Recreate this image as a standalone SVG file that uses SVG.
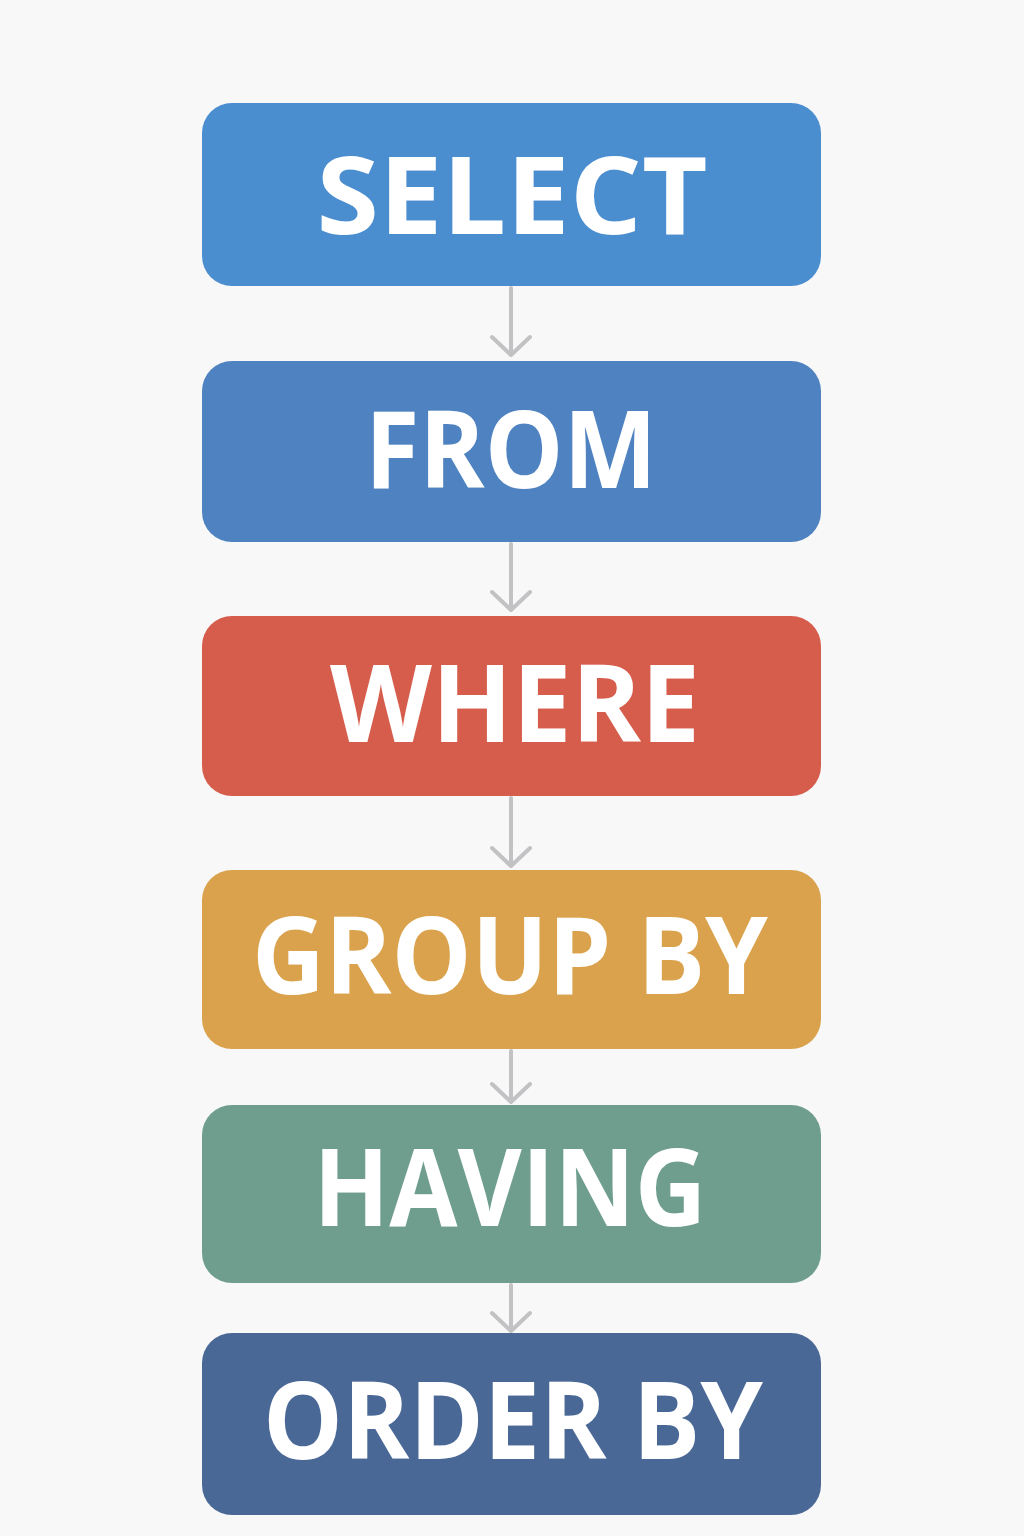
<svg xmlns="http://www.w3.org/2000/svg" width="1024" height="1536" viewBox="0 0 1024 1536">
<style>
.box{stroke:none}
.lbl{font-family:"Open Sans","Liberation Sans",sans-serif;font-weight:bold;font-size:108px;fill:#ffffff}
.conn{stroke:#c2c2c4;stroke-width:4;fill:none;stroke-linecap:round;stroke-linejoin:round}
</style>
<rect width="1024" height="1536" fill="#f8f8f8"/>
<g id="connectors">
<path class="conn" d="M511 288V354M492 337L511 355L530 337"/>
<path class="conn" d="M511 544V609M492 592L511 610L530 592"/>
<path class="conn" d="M511 798V864M492 848L511 866L530 848"/>
<path class="conn" d="M511 1051V1100M492 1084L511 1102L530 1084"/>
<path class="conn" d="M511 1285V1328M492 1313L511 1331L530 1313"/>
</g>
<g id="select"><rect class="box" x="202" y="103" width="619" height="183" rx="30" fill="#4a8ed0"/><text class="lbl" x="512" y="234" text-anchor="middle" textLength="391" lengthAdjust="spacingAndGlyphs">SELECT</text></g>
<g id="from"><rect class="box" x="202" y="361" width="619" height="181" rx="30" fill="#4f82c0"/><text class="lbl" x="511" y="488" text-anchor="middle" textLength="292" lengthAdjust="spacingAndGlyphs">FROM</text></g>
<g id="where"><rect class="box" x="202" y="616" width="619" height="180" rx="30" fill="#d65c4c"/><text class="lbl" x="515" y="742" text-anchor="middle" textLength="370" lengthAdjust="spacingAndGlyphs">WHERE</text></g>
<g id="groupby"><rect class="box" x="202" y="870" width="619" height="179" rx="30" fill="#daa24c"/><text class="lbl" x="510" y="994" text-anchor="middle" textLength="516" lengthAdjust="spacingAndGlyphs">GROUP BY</text></g>
<g id="having"><rect class="box" x="202" y="1105" width="619" height="178" rx="30" fill="#6f9e8e"/><text class="lbl" x="510" y="1226" text-anchor="middle" textLength="393" lengthAdjust="spacingAndGlyphs">HAVING</text></g>
<g id="orderby"><rect class="box" x="202" y="1333" width="619" height="182" rx="30" fill="#4a6896"/><text class="lbl" x="513" y="1459" text-anchor="middle" textLength="500" lengthAdjust="spacingAndGlyphs">ORDER BY</text></g>
</svg>
